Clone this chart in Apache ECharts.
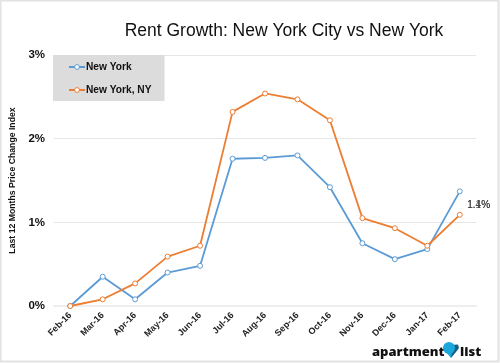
<!DOCTYPE html>
<html><head><meta charset="utf-8">
<style>html,body{margin:0;padding:0;background:#fff}#c{width:500px;height:363px}</style>
<script src="https://cdn.jsdelivr.net/npm/echarts@6/dist/echarts.min.js"></script>
</head><body><div id="c"></div>
<script>
const titleText = 'Rent Growth: New York City vs New York';
const yAxisTitle = 'Last 12 Months Price Change Index';
const months = ['Feb-16','Mar-16','Apr-16','May-16','Jun-16','Jul-16','Aug-16','Sep-16','Oct-16','Nov-16','Dec-16','Jan-17','Feb-17'];
const nameA = 'New York';
const nameB = 'New York, NY';
const valuesA = [0,0.35,0.08,0.40,0.48,1.76,1.77,1.80,1.42,0.75,0.56,0.68,1.37];
const valuesB = [0,0.08,0.27,0.59,0.72,2.32,2.54,2.47,2.22,1.05,0.93,0.72,1.09];
const font = '"Liberation Sans", Arial, sans-serif';
const chart = echarts.init(document.getElementById('c'), null, {renderer:'canvas'});
function mk(name, vals, color, dy){
  return {name, type:'line', data:vals.map((v,i)=> i===vals.length-1 ? {value:v,
      label:{show:true,position:'right',distance:4.5,offset:[0,dy],formatter:p=>p.value.toFixed(1)+'%',
      color:'#444',fontFamily:font,fontWeight:'normal',fontSize:10}} : v),
    symbol:'circle',symbolSize:5,showSymbol:true,
    lineStyle:{color,width:1.8},itemStyle:{color:'#fff',borderColor:color,borderWidth:1},
    emphasis:{disabled:true},animation:false};
}
chart.setOption({
  animation:false,
  title:{text:titleText,left:279,top:17,textAlign:'center',
    textStyle:{fontFamily:font,fontWeight:'normal',fontSize:17.5,color:'#111'}},
  legend:{left:53,top:55,orient:'vertical',backgroundColor:'#dcdcdc',
    padding:[7,13,6,15],itemWidth:16,itemHeight:6,itemGap:13,
    data:[nameA,nameB],
    itemStyle:{color:'#fff',borderWidth:1},
    textStyle:{fontFamily:font,fontWeight:'bold',fontSize:10.2,color:'#111',padding:[0,0,0,-4]}},
  grid:{left:54,right:24,top:55,bottom:57},
  xAxis:{type:'category',data:months,boundaryGap:true,
    axisLine:{lineStyle:{color:'#eeeeee',width:2}},axisTick:{show:false},
    axisLabel:{rotate:45,interval:0,margin:8,fontFamily:font,fontWeight:'bold',fontSize:9,color:'#222'}},
  yAxis:{type:'value',min:0,max:3,interval:1,name:yAxisTitle,nameLocation:'middle',nameGap:34,
    nameTextStyle:{fontFamily:font,fontWeight:'bold',fontSize:8.7,color:'#111'},
    axisLine:{show:false},axisTick:{show:false},
    splitLine:{lineStyle:{color:'#e6e6e6',width:1}},
    axisLabel:{formatter:v=>v+'%',margin:9,fontFamily:font,fontWeight:'bold',fontSize:11.5,color:'#111'}},
  series:[mk(nameA,valuesA,'#5b9bd5',14),mk(nameB,valuesB,'#ed7d31',-10)],
  graphic:[
    {type:'rect',silent:true,z:-1,shape:{x:0.5,y:0.5,width:498,height:361},style:{fill:'none',stroke:'#e2e2e2',lineWidth:2}},
    {type:'text',x:372,y:345.5,z:10,style:{text:'apartment',fontFamily:'"Open Sans", '+font,fontWeight:800,fontSize:13,fill:'#111'}},
    {type:'text',x:460,y:345.5,z:10,style:{text:'list',fontFamily:'"Open Sans", '+font,fontWeight:800,fontSize:13,fill:'#111'}},
    {type:'polygon',z:10,shape:{points:[[451,345],[458,344.5],[459,348],[456,352],[451,358]]},style:{fill:'#12607f'}},
    {type:'circle',z:11,shape:{cx:449,cy:348,r:6},style:{fill:'#1aa7dc'}},
    {type:'polygon',z:11,shape:{points:[[445,351],[452,352],[451,358]]},style:{fill:'#1aa7dc'}}
  ]
});
</script></body></html>
